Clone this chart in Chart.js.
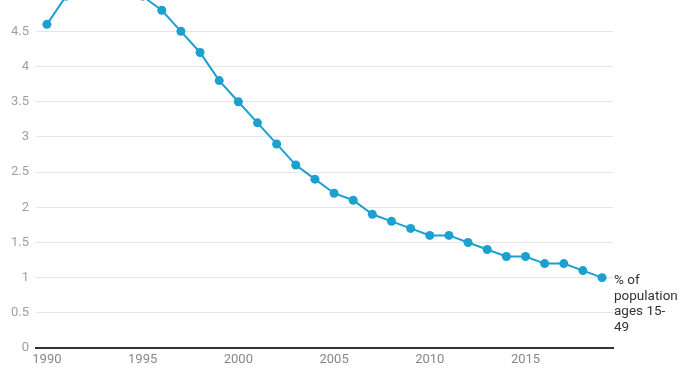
<!DOCTYPE html>
<html>
<head>
<meta charset="utf-8">
<script src="https://cdn.jsdelivr.net/npm/chart.js@4/dist/chart.umd.min.js"></script>
<style>
  html, body { margin: 0; padding: 0; background: #fff; overflow: hidden; }
  body { width: 700px; height: 380px; position: relative; }
  #wrap { position: absolute; left: 0; top: -60px; width: 700px; height: 440px; }
</style>
</head>
<body>
<div id="wrap"><canvas id="chart"></canvas></div>
<script>
// years and HIV prevalence (% of population ages 15-49)
const years = [1990, 1991, 1992, 1993, 1994, 1995, 1996, 1997, 1998, 1999,
               2000, 2001, 2002, 2003, 2004, 2005, 2006, 2007, 2008, 2009,
               2010, 2011, 2012, 2013, 2014, 2015, 2016, 2017, 2018, 2019];
const values = [4.6, 5.0, 5.3, 5.3, 5.2, 5.0, 4.8, 4.5, 4.2, 3.8,
                3.5, 3.2, 2.9, 2.6, 2.4, 2.2, 2.1, 1.9, 1.8, 1.7,
                1.6, 1.6, 1.5, 1.4, 1.3, 1.3, 1.2, 1.2, 1.1, 1.0];
const seriesLabel = ['% of', 'population', 'ages 15-', '49'];

const lineColor = '#1ba0cf';

// draws the series label next to the last point
const endLabel = {
    id: 'endLabel',
    afterDatasetsDraw(chart) {
        const pts = chart.getDatasetMeta(0).data;
        const last = pts[pts.length - 1];
        const ctx = chart.ctx;
        ctx.save();
        ctx.font = '13.5px Roboto';
        ctx.fillStyle = '#333';
        ctx.textAlign = 'left';
        ctx.textBaseline = 'middle';
        seriesLabel.forEach((line, i) => {
            ctx.fillText(line, chart.chartArea.right + 1, last.y + 3 + i * 15.7);
        });
        ctx.restore();
    }
};

new Chart(document.getElementById('chart'), {
    type: 'line',
    data: {
        datasets: [{
            data: years.map((y, i) => ({ x: y, y: values[i] })),
            borderColor: lineColor,
            backgroundColor: lineColor,
            borderWidth: 2,
            pointRadius: 4.5,
            pointBackgroundColor: lineColor,
            pointBorderWidth: 0,
            tension: 0,
            clip: false
        }]
    },
    options: {
        responsive: true,
        maintainAspectRatio: false,
        animation: false,
        layout: { padding: { top: 21, right: 87, bottom: 0, left: 0 } },
        plugins: {
            legend: { display: false },
            tooltip: { enabled: false }
        },
        scales: {
            x: {
                type: 'linear',
                min: 1989.43,
                max: 2019.57,
                afterFit(scale) { scale.height = 32; },
                grid: { display: false, drawTicks: false },
                border: { display: true, color: '#333', width: 2 },
                ticks: {
                    stepSize: 5,
                    includeBounds: false,
                    padding: 4,
                    color: '#888',
                    font: { family: 'Roboto', size: 13 },
                    maxRotation: 0,
                    callback: v => String(v)
                }
            },
            y: {
                min: 0,
                max: 5.5,
                afterFit(scale) { scale.width = 36; },
                grid: { color: '#e5e5e5', drawTicks: false, lineWidth: 1 },
                border: { display: false },
                ticks: {
                    stepSize: 0.5,
                    padding: 7,
                    color: '#a0a0a0',
                    font: { family: 'Roboto', size: 13 },
                    callback: v => String(Math.round(v * 10) / 10)
                }
            }
        }
    },
    plugins: [endLabel]
});
</script>
</body>
</html>
